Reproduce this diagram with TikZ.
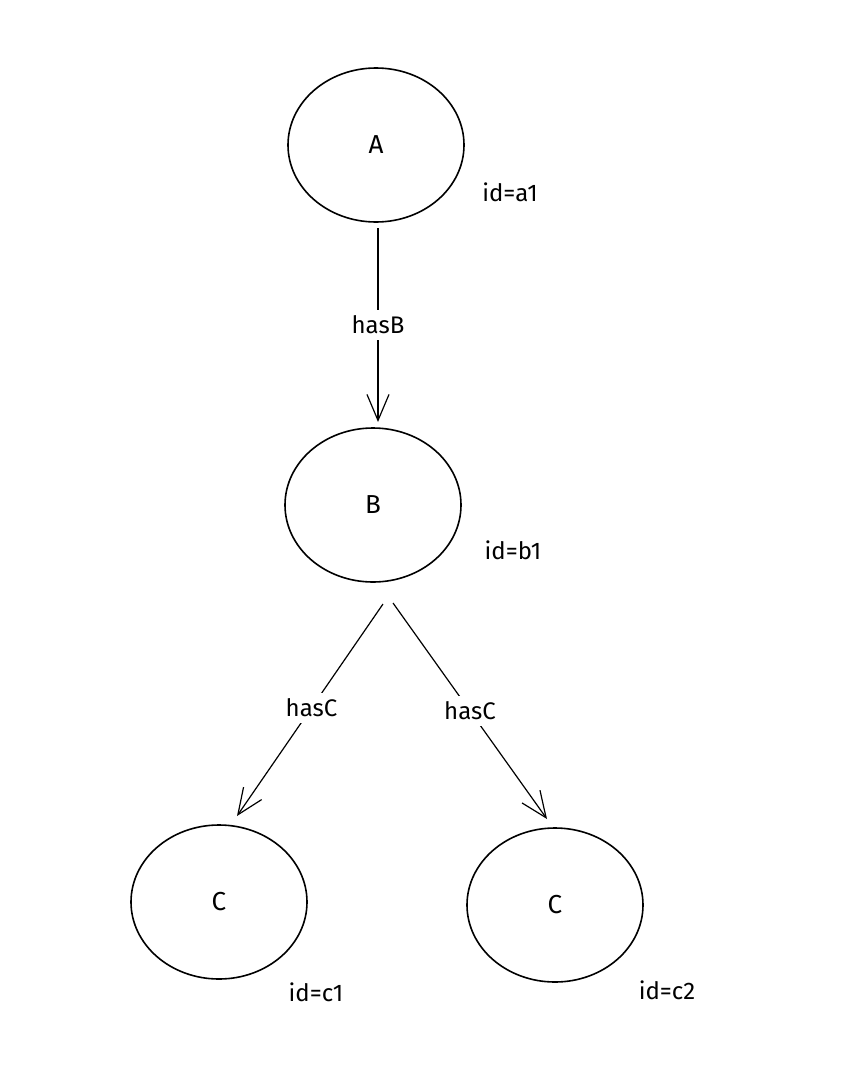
\documentclass[tikz,border=0pt]{standalone}
\usepackage{fontspec}
\setmainfont{Fira Sans}
\usetikzlibrary{shapes.geometric,arrows.meta}
\begin{document}
\begin{tikzpicture}[x=1pt,y=-1pt,
  ent/.style={ellipse,draw,line width=1.6pt,minimum width=176pt,minimum height=154pt,font=\fontsize{26}{30}\selectfont},
  idl/.style={font=\fontsize{24}{28}\selectfont},
  lbl/.style={fill=white,font=\fontsize{24}{28}\selectfont,inner sep=6pt},
  conn/.style={line width=1.2pt,-{Straight Barb[length=26pt,width=22pt,line width=1.2pt]}}]
\useasboundingbox (0,0) rectangle (862,1074);
\node[ent] (A) at (376,145) {A};
\node[ent] (B) at (373,505) {B};
\node[ent] (C1) at (219,902) {C};
\node[ent] (C2) at (555,905) {C};
\node[idl] (ia) at (510,192) {id=a1};
\node[idl] (ib) at (513,550) {id=b1};
\node[idl] (ic1) at (316,992) {id=c1};
\node[idl] (ic2) at (667,990) {id=c2};
\coordinate (a0) at (378,228);
\coordinate (a1) at (378,422);
\coordinate (b0) at (383,604);
\coordinate (c1e) at (237,816);
\coordinate (b1) at (393,603);
\coordinate (c2e) at (547,819);
\draw[conn] (a0) -- node[lbl,pos=0.5] (lb) {hasB} (a1);
\draw[conn] (b0) -- node[lbl,pos=0.49] (lc1) {hasC} (c1e);
\draw[conn] (b1) -- node[lbl,pos=0.5] (lc2) {hasC} (c2e);
\end{tikzpicture}
\end{document}
